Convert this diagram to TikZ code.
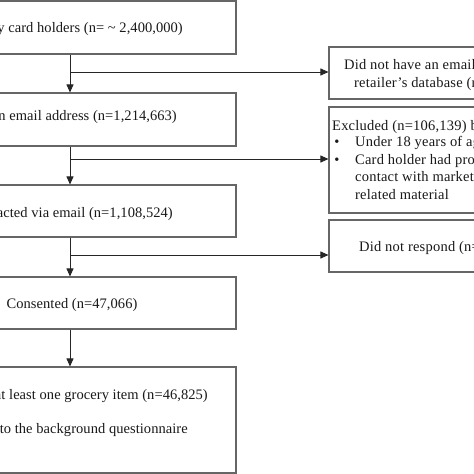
\documentclass[tikz,border=0pt]{standalone}
\usepackage{fontspec}
\setmainfont{Liberation Serif}[LetterSpace=0.4]
\newfontfamily\widefont{Liberation Serif}[LetterSpace=1.5]
\usetikzlibrary{arrows.meta}
\begin{document}
\begin{tikzpicture}[x=1pt,y=-1pt,
  boxst/.style={draw=black!60, line width=1.1pt, rectangle, inner sep=0pt, minimum height=#1},
  leftbox/.style={boxst=#1, minimum width=332pt},
  rightbox/.style={boxst=#1, minimum width=231pt},
  txt/.style={inner sep=0pt, font=\fontsize{14.5}{17.5}\selectfont, text=black!90},
  lt/.style={txt, anchor=base east},
  rt/.style={txt, font=\fontsize{14.5}{17.5}\selectfont\widefont, anchor=base west},
  arr/.style={draw=black!85, line width=0.9pt, -{Triangle[length=8pt,width=7pt]}}]
\useasboundingbox (0,0) rectangle (474,474);
\fill[white] (0,0) rectangle (474,474);
\clip (0,0) rectangle (474,474);
% left column boxes
\node[leftbox=53pt] (b1) at (70,27.5) {};
\node[leftbox=53pt] (b2) at (70,119.5) {};
\node[leftbox=52pt] (b3) at (70,211) {};
\node[leftbox=52pt] (b4) at (70,303) {};
\node[leftbox=106pt] (b5) at (70,420) {};
% right column boxes
\node[rightbox=52pt] (r1) at (444.5,73) {};
\node[rightbox=106pt] (r2) at (444.5,160) {};
\node[rightbox=52pt] (r3) at (444.5,246) {};
% texts left
\node[lt] (t1) at (183,32) {y card holders (n= \textasciitilde{} 2,400,000)};
\node[lt] (t2) at (177,120) {n email address (n=1,214,663)};
\node[lt] (t3) at (173,217) {acted via email (n=1,108,524)};
\node[txt, anchor=base] (t4) at (72,308) {Consented (n=47,066)};
\node[lt] (t5a) at (208,399) {at least one grocery item (n=46,825)};
\node[lt] (t5b) at (188,433) {to the background questionnaire};
% texts right
\node[rt] (u1) at (344,69) {Did not have an email};
\node[rt] (u2) at (354,87) {retailer’s database (n};
\node[rt] (v1) at (332,130) {Excluded (n=106,139) b};
\node[txt, anchor=base] (d1) at (337,146) {•};
\node[rt] (v2) at (355,146) {Under 18 years of ag};
\node[txt, anchor=base] (d2) at (337,164) {•};
\node[rt] (v3) at (355,164) {Card holder had pro};
\node[rt] (v4) at (355,181) {contact with market};
\node[rt] (v5) at (355,199) {related material};
\node[rt] (w1) at (359,251) {Did not respond (n=};
% junctions
\coordinate (j1) at (70,72);
\coordinate (j2) at (70,159);
\coordinate (j3) at (70,255);
% vertical arrows
\draw[arr] (b1) -- (b2);
\draw[arr] (b2) -- (b3);
\draw[arr] (b3) -- (b4);
\draw[arr] (b4) -- (b5);
% side arrows
\draw[arr] (j1) -- (j1 -| r1.west);
\draw[arr] (j2) -- (j2 -| r2.west);
\draw[arr] (j3) -- (j3 -| r3.west);
\end{tikzpicture}
\end{document}
